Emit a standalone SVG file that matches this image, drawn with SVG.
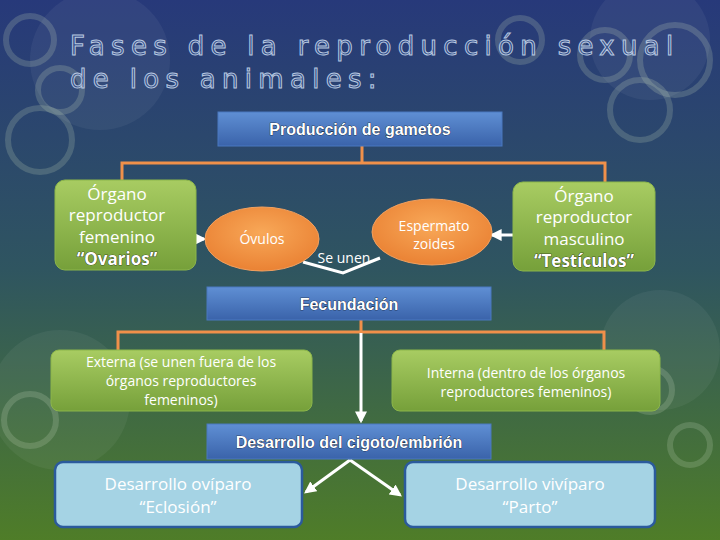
<svg xmlns="http://www.w3.org/2000/svg" width="720" height="540" viewBox="0 0 720 540">
<defs>
<linearGradient id="bg" x1="0" y1="0" x2="0" y2="1"><stop offset="0" stop-color="#27397a"/><stop offset="0.5" stop-color="#2f5560"/><stop offset="1" stop-color="#4f7d28"/></linearGradient>
<linearGradient id="blue" x1="0" y1="0" x2="0" y2="1"><stop offset="0" stop-color="#5f8fd4"/><stop offset="1" stop-color="#3a63aa"/></linearGradient>
<linearGradient id="green" x1="0" y1="0" x2="0" y2="1"><stop offset="0" stop-color="#a8cc62"/><stop offset="1" stop-color="#76a03a"/></linearGradient>
<radialGradient id="orange" cx="0.5" cy="0.4" r="0.6"><stop offset="0" stop-color="#f8a858"/><stop offset="1" stop-color="#ea8234"/></radialGradient>
<marker id="ah" viewBox="0 0 10 10" refX="8" refY="5" markerWidth="4" markerHeight="4" orient="auto"><path d="M0,0 L10,5 L0,10 z" fill="#fff"/></marker>
<style>
.ttl{font-family:"DejaVu Sans",sans-serif;font-size:26px;letter-spacing:6.3px;fill:#3a5a9a;fill-opacity:0.4;stroke:#b8c8e0;stroke-width:1}
.hb{fill:url(#blue);stroke:#4a78c0;stroke-width:1}
.ht{font-family:"Liberation Sans",sans-serif;font-weight:bold;font-size:16px;fill:#fff;stroke:#000;stroke-width:0.6;paint-order:stroke;text-anchor:middle}
.gb{fill:url(#green);stroke:#8cb64a;stroke-width:1}
.gt{font-family:"Open Sans",sans-serif;font-size:17px;fill:#fff;text-anchor:middle}
.st{font-family:"Open Sans",sans-serif;font-size:14px;fill:#fff;text-anchor:middle}
.ov{fill:url(#orange);stroke:#f0a060;stroke-width:1}
.lb{fill:#a5d3e4;stroke:#2b5a9c;stroke-width:2.5}
.br{fill:none;stroke:#f0904a;stroke-width:3}
.wl{fill:none;stroke:#fff;stroke-width:3}
.bold{font-weight:bold;stroke:#000;stroke-width:0.6;paint-order:stroke}
</style>
</defs>
<rect width="720" height="540" fill="url(#bg)"/>
<g fill="none" stroke="#c0d0b8" stroke-opacity="0.22" stroke-width="6">
<circle cx="40" cy="140" r="32"/><circle cx="30" cy="40" r="24"/><circle cx="60" cy="90" r="22"/><circle cx="640" cy="110" r="30"/><circle cx="605" cy="55" r="25"/><circle cx="675" cy="60" r="35"/><circle cx="690" cy="445" r="20"/><circle cx="650" cy="390" r="22"/><circle cx="30" cy="420" r="26"/><circle cx="520" cy="40" r="22"/>
</g>
<g fill="#ffffff" fill-opacity="0.05"><circle cx="100" cy="60" r="70"/><circle cx="650" cy="40" r="60"/><circle cx="60" cy="400" r="70"/><circle cx="660" cy="350" r="60"/></g>
<text class="ttl" x="70" y="55">Fases de la reproducción sexual</text>
<text class="ttl" x="70" y="88">de los animales:</text>
<g id="connectors">
<path class="br" d="M362,146 V163 M122,180 V163 H605 V182"/>
<path class="br" d="M361,320 V332 M118,350 V332 H604 V350"/>
<line class="wl" x1="178" y1="239" x2="204" y2="239" marker-end="url(#ah)"/>
<line class="wl" x1="513" y1="235" x2="492" y2="235" marker-end="url(#ah)"/>
<path class="wl" d="M303,262 L343,273 L380,258" stroke-width="2.5"/>
<line class="wl" x1="361" y1="333" x2="361" y2="421" stroke-width="2" marker-end="url(#ah)"/>
<line class="wl" x1="350" y1="460" x2="306" y2="492" marker-end="url(#ah)"/>
<line class="wl" x1="350" y1="460" x2="400" y2="495" marker-end="url(#ah)"/>
</g>
<g id="produccion"><rect class="hb" x="218" y="112" width="284" height="34"/><text class="ht" x="360" y="135">Producción de gametos</text></g>
<g id="femenino"><rect class="gb" x="55" y="180" width="141" height="90" rx="10"/>
<text class="gt" x="117" y="200">Órgano</text><text class="gt" x="117" y="221">reproductor</text><text class="gt" x="117" y="243">femenino</text><text class="gt bold" x="117" y="265">“Ovarios”</text></g>
<g id="ovulos"><ellipse class="ov" cx="262" cy="239" rx="57" ry="32"/><text class="st" x="262" y="244">Óvulos</text></g>
<g id="esperma"><ellipse class="ov" cx="432" cy="232" rx="60" ry="33"/><text class="st" x="434" y="231">Espermato</text><text class="st" x="434" y="249">zoides</text></g>
<text class="st" x="344" y="263" font-size="12">Se unen</text>
<g id="masculino"><rect class="gb" x="513" y="182" width="142" height="89" rx="10"/>
<text class="gt" x="584" y="202">Órgano</text><text class="gt" x="584" y="223">reproductor</text><text class="gt" x="584" y="245">masculino</text><text class="gt bold" x="584" y="267">“Testículos”</text></g>
<g id="fecundacion"><rect class="hb" x="207" y="287" width="284" height="33"/><text class="ht" x="349" y="310">Fecundación</text></g>
<g id="externa"><rect class="gb" x="51" y="350" width="261" height="61" rx="8"/>
<text class="st" x="181" y="367" font-size="15">Externa (se unen fuera de los</text><text class="st" x="181" y="386" font-size="15">órganos reproductores</text><text class="st" x="181" y="405" font-size="15">femeninos)</text></g>
<g id="interna"><rect class="gb" x="392" y="350" width="268" height="61" rx="8"/>
<text class="st" x="526" y="378" font-size="15">Interna (dentro de los órganos</text><text class="st" x="526" y="397" font-size="15">reproductores femeninos)</text></g>
<g id="desarrollo"><rect class="hb" x="207" y="424" width="284" height="35"/><text class="ht" x="349" y="448">Desarrollo del cigoto/embrión</text></g>
<g id="oviparo"><rect class="lb" x="55" y="462" width="247" height="65" rx="8"/>
<text class="gt" x="178" y="490">Desarrollo ovíparo</text><text class="gt" x="178" y="513">“Eclosión”</text></g>
<g id="viviparo"><rect class="lb" x="405" y="462" width="250" height="65" rx="8"/>
<text class="gt" x="530" y="490">Desarrollo vivíparo</text><text class="gt" x="530" y="513">“Parto”</text></g>
</svg>
